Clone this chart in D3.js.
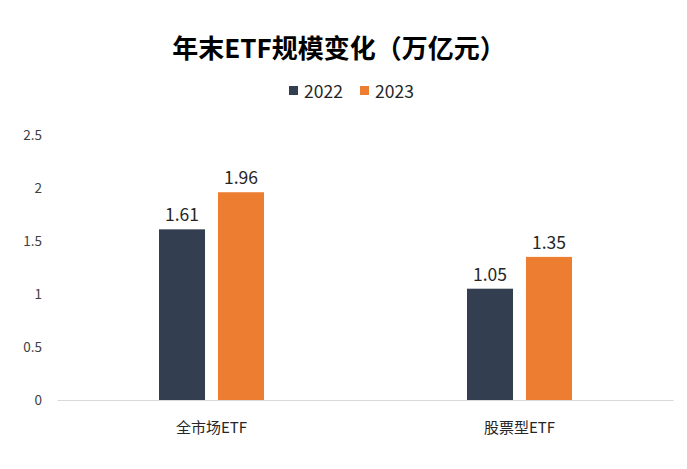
<!DOCTYPE html>
<html>
<head>
<meta charset="utf-8">
<script src="https://cdn.jsdelivr.net/npm/d3@7"></script>
<style>
  body { margin: 0; background: #fff; }
  text { font-family: "Noto Sans CJK SC", "Noto Sans", sans-serif; }
</style>
</head>
<body>
<div id="chart"></div>
<script>
const categories = ['全市场ETF', '股票型ETF'];
const seriesNames = ['2022', '2023'];
const values2022 = [1.61, 1.05];
const values2023 = [1.96, 1.35];
const yTicks = [0, 0.5, 1, 1.5, 2, 2.5];
const colors = ['#333F50', '#ED7D31'];

const width = 687, height = 469;
const svg = d3.select('#chart').append('svg')
  .attr('width', width)
  .attr('height', height);

const y = d3.scaleLinear().domain([0, 2.5]).range([400, 135]);
const x0 = d3.scaleBand().domain(categories).range([57.5, 673.5]);
const groupW = 105;
const x1 = d3.scaleBand().domain(seriesNames).range([0, groupW]).paddingInner(0.22);

const rows = categories.map((c, i) => ({
  cat: c,
  vals: [values2022[i], values2023[i]]
}));

// title
svg.append('text')
  .attr('x', 339).attr('y', 58)
  .attr('text-anchor', 'middle')
  .attr('font-size', 26)
  .attr('font-weight', 'bold')
  .attr('fill', '#000')
  .text('年末ETF规模变化（万亿元）');

// legend
const legend = svg.append('g');
const legendX = [289, 360];
seriesNames.forEach((s, i) => {
  legend.append('rect')
    .attr('x', legendX[i]).attr('y', 86)
    .attr('width', 9).attr('height', 9)
    .attr('fill', colors[i]);
  legend.append('text')
    .attr('x', legendX[i] + 15).attr('y', 97.5)
    .attr('font-size', 17.5)
    .attr('fill', '#262626')
    .text(s);
});

// y tick labels
svg.append('g')
  .selectAll('text')
  .data(yTicks)
  .join('text')
  .attr('x', 42)
  .attr('y', d => y(d))
  .attr('dy', '0.35em')
  .attr('text-anchor', 'end')
  .attr('font-size', 13.5)
  .attr('fill', '#404040')
  .text(d => d);

// baseline
svg.append('line')
  .attr('x1', 57.5).attr('x2', 673.5)
  .attr('y1', y(0) + 0.5).attr('y2', y(0) + 0.5)
  .attr('stroke', '#D9D9D9')
  .attr('stroke-width', 1);

// bars
const groups = svg.append('g')
  .selectAll('g')
  .data(rows)
  .join('g')
  .attr('transform', d => `translate(${x0(d.cat) + (x0.bandwidth() - groupW) / 2},0)`);

groups.selectAll('rect')
  .data(d => d.vals.map((v, i) => ({ key: seriesNames[i], v, i })))
  .join('rect')
  .attr('x', d => x1(d.key))
  .attr('y', d => y(d.v))
  .attr('width', x1.bandwidth())
  .attr('height', d => y(0) - y(d.v))
  .attr('fill', d => colors[d.i]);

groups.selectAll('text')
  .data(d => d.vals.map((v, i) => ({ key: seriesNames[i], v, i })))
  .join('text')
  .attr('x', d => x1(d.key) + x1.bandwidth() / 2)
  .attr('y', d => y(d.v) - 8)
  .attr('text-anchor', 'middle')
  .attr('font-size', 17.5)
  .attr('fill', '#262626')
  .text(d => d.v.toFixed(2));

// category labels
svg.append('g')
  .selectAll('text')
  .data(categories)
  .join('text')
  .attr('x', d => x0(d) + x0.bandwidth() / 2)
  .attr('y', 433)
  .attr('text-anchor', 'middle')
  .attr('font-size', 15)
  .attr('fill', '#262626')
  .text(d => d);
</script>
</body>
</html>
